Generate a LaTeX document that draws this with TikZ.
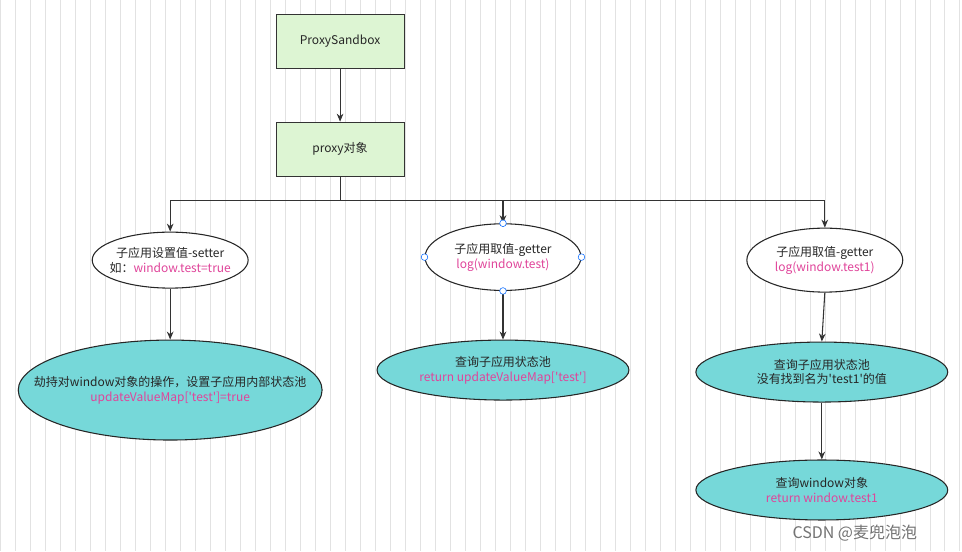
\documentclass[tikz,border=0pt]{standalone}
\usepackage{fontspec}
\setmainfont{Noto Sans CJK SC}
\usetikzlibrary{arrows.meta,shapes.geometric}
\definecolor{gfill}{HTML}{DDF5D3}
\definecolor{tfill}{HTML}{76D8D9}
\definecolor{pk}{HTML}{E0449A}
\definecolor{gridc}{HTML}{E2E2E2}
\newcommand{\sq}{\textquotesingle}
\begin{document}
\begin{tikzpicture}[x=0.75pt,y=-0.75pt,
  every node/.style={font=\fontsize{9}{11}\selectfont,align=center,text=black!85},
  box/.style={draw=black!80,thick,fill=gfill,minimum width=96pt,minimum height=40.5pt},
  wel/.style={draw=black!85,thick,ellipse,fill=white,inner sep=0pt},
  tel/.style={draw=black!85,thick,ellipse,fill=tfill,inner sep=0pt},
  arr/.style={thick,black!80,-{Stealth[length=6pt,width=5pt]}},
  hd/.style={draw=blue!60!cyan,fill=white,circle,inner sep=0pt,minimum size=5pt}]
\fill[white] (0,0) rectangle (962,551);
\draw[gridc,step=15] (0,0) grid (962,551);
\useasboundingbox (0,0) rectangle (962,551);
\node[box] (ps) at (340,41) {ProxySandbox};
\node[box] (po) at (340,149) {proxy对象};
\draw[arr] (ps) -- (po);
\node[wel,minimum width=117pt,minimum height=42pt] (e1) at (170,260) {};
\node at (e1) {子应用设置值-setter\\如：\textcolor{pk}{window.test=true}};
\node[wel,minimum width=117pt,minimum height=50pt] (e2) at (503,257) {};
\node at (e2) {子应用取值-getter\\\textcolor{pk}{log(window.test)}};
\node[wel,minimum width=117pt,minimum height=48pt] (e3) at (825,260) {};
\node at (e3) {子应用取值-getter\\\textcolor{pk}{log(window.test1)}};
\node[tel,minimum width=228pt,minimum height=75pt] (t1) at (170,390) {};
\node at (t1) {劫持对window对象的操作，设置子应用内部状态池\\\textcolor{pk}{updateValueMap[\sq test\sq]=true}};
\node[tel,minimum width=189pt,minimum height=45pt] (t2) at (503,370) {};
\node at (t2) {查询子应用状态池\\\textcolor{pk}{return updateValueMap[\sq test\sq]}};
\node[tel,minimum width=189pt,minimum height=45pt] (t3) at (822,372) {};
\node at (t3) {查询子应用状态池\\没有找到名为\sq test1\sq 的值};
\node[tel,minimum width=189pt,minimum height=45pt] (t4) at (822,490) {};
\node at (t4) {查询window对象\\\textcolor{pk}{return window.test1}};
\coordinate (j) at (340,200);
\draw[thick,black!80] (po.south) -- (j);
\draw[thick,black!80] (170,200) -- (825,200);
\draw[arr] (170,200) -- (e1.north);
\draw[arr] (503,200) -- (e2.north);
\draw[arr] (825,200) -- (e3.north);
\draw[arr] (e1) -- (t1);
\draw[arr] (e2) -- (t2);
\draw[arr] (t3) -- (t4);
\draw[arr] (e3.south) -- (t3.north);
\node[hd] at (e2.north) {};
\node[hd] at (e2.south) {};
\node[hd] at (e2.west) {};
\node[hd] at (e2.east) {};
\node[text=black!55,font=\fontsize{12}{14}\selectfont] at (855,533) {CSDN @麦兜泡泡};
\end{tikzpicture}
\end{document}
